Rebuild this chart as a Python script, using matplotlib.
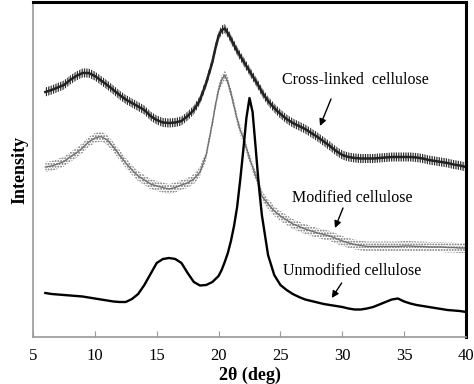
import numpy as np
import matplotlib
matplotlib.use("Agg")
import matplotlib.pyplot as plt

plt.rcParams["font.family"] = ["Liberation Serif", "DejaVu Serif"]
plt.rcParams["hatch.linewidth"] = 0.9

# 2theta grid (finer around the main peaks)
two_theta = np.concatenate([np.arange(6.0, 19.51, 0.5),
                            np.arange(19.75, 23.26, 0.25),
                            np.arange(23.5, 40.01, 0.5)])

# intensities (a.u.)
unmodified = [44, 43, 42.5, 42, 41.5, 41, 40.5, 39.5, 38.5, 37.5, 36.5, 35.5, 35, 35,
              38, 43, 52, 63, 74, 78, 79, 78, 74, 64, 55, 51.5, 52, 55,
              58, 61, 67, 75, 84, 96, 111, 130, 157, 187, 219, 239, 225, 189, 152,
              122, 82, 62, 52, 47, 43, 40, 37.5, 36, 34.5, 33, 32, 31, 30, 28.5, 27.5, 27.5,
              28.5, 30, 32.5, 35, 37.5, 38.5, 35.5, 33.5, 32, 31, 30, 29, 28, 27, 26.5, 26, 25]

modified = [170, 171, 173, 175.5, 180, 184, 189, 195, 199, 200.5, 197, 190, 182, 174,
            167, 161, 157, 153, 151, 149.5, 148, 149.5, 152, 154, 158, 165, 182, 214,
            232, 247, 257, 262, 255, 244, 231, 218, 207, 199, 189, 179, 170, 161, 154,
            141, 133, 126, 121, 117, 113, 110.5, 108, 106, 104, 102.5, 101, 98.5, 96, 94, 92.5, 91.5,
            90.5, 90.5, 90.5, 90.5, 90.5, 90.5, 91, 91, 90.5, 90.5, 90, 90, 90, 89.5, 89.5, 89, 89]

crosslinked = [245, 247, 249.5, 252, 257, 261, 264, 264, 261, 256.5, 252, 247, 242, 237.5,
               234, 230.5, 227, 221, 217, 214.5, 214, 214.5, 216, 221, 227, 237, 254, 275,
               289, 301, 307, 308.5, 304, 298, 292, 286, 281, 276, 271, 266, 261, 256, 251,
               245, 236, 229, 223, 218, 214, 211, 208, 204, 200, 195.5, 191, 186, 182, 180, 179, 178.5,
               178.5, 178.5, 179, 179.5, 180, 180, 180, 180, 179.5, 178.5, 177, 176, 175, 174, 172.5, 171.5, 170]

x_ticks = [5, 10, 15, 20, 25, 30, 35, 40]

fig = plt.figure(figsize=(4.74, 3.84), dpi=100)
ax = fig.add_axes([0.0696, 0.1224, 0.9135, 0.8724])

cl = np.array(crosslinked)
md = np.array(modified)

# cross-linked: dark band of short vertical strokes
ax.fill_between(two_theta, cl - 4.5, cl + 4.5, facecolor="none", edgecolor="#2e2e2e",
                hatch="|||||||", lw=0)
ax.plot(two_theta, cl, color="#222222", lw=1.8)
# modified: lighter dotted band
ax.fill_between(two_theta, md - 5, md + 5, facecolor="none", edgecolor="#6e6e6e",
                hatch="......", lw=0)
ax.plot(two_theta, md, color="#707070", lw=1.0)
# unmodified: solid line
ax.plot(two_theta, unmodified, color="black", lw=1.7)

ax.set_xlim(5, 40)
ax.set_ylim(0, 335)
ax.set_xticks(x_ticks)
ax.set_yticks([])
ax.tick_params(axis="x", direction="in", length=4, color="#999999", labelsize=12, pad=8)

for side in ["left", "bottom"]:
    ax.spines[side].set_color("#999999")
    ax.spines[side].set_linewidth(1.2)
for side in ["top", "right"]:
    ax.spines[side].set_color("black")
    ax.spines[side].set_linewidth(2.2)

ax.set_xlabel("2θ (deg)", fontsize=13, fontweight="bold", labelpad=2)
ax.set_ylabel("Intensity", fontsize=13, fontweight="bold", labelpad=3)

# labels with arrows
arrow = dict(arrowstyle="-|>", color="black", lw=1.0, mutation_scale=10, shrinkA=0, shrinkB=0)
ax.text(25.13, 257, "Cross-linked  cellulose", fontsize=11.5, va="center")
ax.annotate("", xy=(28.2, 211), xytext=(29.09, 238), arrowprops=arrow)
ax.text(25.91, 139, "Modified cellulose", fontsize=11.5, va="center")
ax.annotate("", xy=(29.41, 109), xytext=(30.06, 129), arrowprops=arrow)
ax.text(25.21, 66, "Unmodified cellulose", fontsize=11.5, va="center")
ax.annotate("", xy=(29.15, 39), xytext=(29.95, 54), arrowprops=arrow)

fig.savefig("out.png", dpi=100)
